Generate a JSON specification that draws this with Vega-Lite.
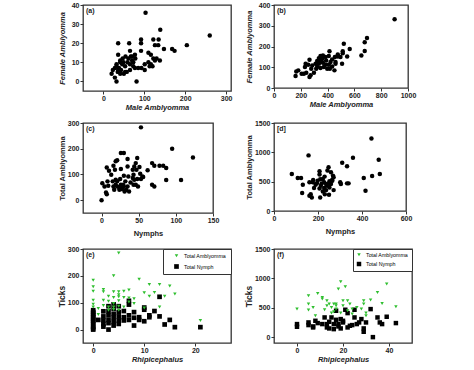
{
  "$schema": "https://vega.github.io/schema/vega-lite/v6.json",
  "padding": {"left": 56, "top": 0, "right": 0, "bottom": 0},
  "config": {
    "font": "Liberation Sans",
    "view": {"stroke": "#333", "strokeWidth": 1.3},
    "axis": {"grid": false, "domain": false, "tickSize": 3, "tickColor": "#333", "labelFontSize": 7, "labelFontWeight": "bold", "labelColor": "#222", "titleFontSize": 7.5, "titleFontWeight": "bold", "titleColor": "#222", "format": "d"},
    "axisX": {"labelPadding": 0, "titlePadding": 2, "labelFlush": false},
    "axisY": {"labelPadding": 1, "minExtent": 14, "maxExtent": 14},
    "title": {"anchor": "start", "fontSize": 7, "fontWeight": "bold", "offset": -13, "dx": 3, "frame": "group", "color": "#222"},
    "legend": {"orient": "top-right", "offset": 0, "strokeColor": "#333", "fillColor": "white", "padding": 4, "labelFontSize": 5.3, "labelFontWeight": "normal", "symbolSize": 14, "rowPadding": 3, "labelLimit": 100}
  },
  "datasets": {
    "a": [
      {"m":103,"f":36},{"m":260,"f":24},{"m":139,"f":27},{"m":36,"f":20},{"m":63,"f":20},{"m":92,"f":22},{"m":92,"f":20},{"m":122,"f":22},{"m":135,"f":22},{"m":204,"f":19},{"m":168,"f":17},{"m":148,"f":17},{"m":134,"f":19},{"m":126,"f":19},{"m":92,"f":16},{"m":65,"f":16},{"m":77,"f":14},{"m":67,"f":13},{"m":61,"f":12},{"m":70,"f":11},{"m":78,"f":12},{"m":73,"f":10},{"m":110,"f":15},{"m":116,"f":14},{"m":122,"f":12},{"m":130,"f":12},{"m":138,"f":11},{"m":126,"f":11},{"m":110,"f":10},{"m":101,"f":9},{"m":116,"f":9},{"m":113,"f":8},{"m":101,"f":6},{"m":85,"f":7},{"m":77,"f":7},{"m":65,"f":6},{"m":36,"f":14},{"m":47,"f":12},{"m":54,"f":13},{"m":41,"f":10},{"m":32,"f":9},{"m":46,"f":9},{"m":53,"f":8},{"m":38,"f":7},{"m":28,"f":7},{"m":43,"f":6},{"m":53,"f":5},{"m":35,"f":5},{"m":20,"f":4},{"m":28,"f":2},{"m":32,"f":0},{"m":81,"f":0},{"m":23,"f":6},{"m":59,"f":10},{"m":49,"f":10},{"m":65,"f":9},{"m":73,"f":8},{"m":41,"f":4},{"m":50,"f":4},{"m":36,"f":6},{"m":32,"f":8},{"m":41,"f":11},{"m":93,"f":7},{"m":174,"f":16},{"m":120,"f":8},{"m":57,"f":5},{"m":70,"f":13}
    ],
    "b": [
      {"m":900,"f":331},{"m":694,"f":241},{"m":677,"f":220},{"m":677,"f":178},{"m":652,"f":157},{"m":521,"f":213},{"m":565,"f":188},{"m":513,"f":177},{"m":513,"f":167},{"m":476,"f":162},{"m":476,"f":152},{"m":546,"f":152},{"m":508,"f":117},{"m":454,"f":149},{"m":459,"f":125},{"m":451,"f":85},{"m":409,"f":154},{"m":414,"f":177},{"m":434,"f":138},{"m":389,"f":133},{"m":365,"f":157},{"m":384,"f":149},{"m":347,"f":154},{"m":335,"f":144},{"m":352,"f":136},{"m":322,"f":130},{"m":310,"f":117},{"m":335,"f":117},{"m":365,"f":122},{"m":384,"f":112},{"m":409,"f":112},{"m":417,"f":93},{"m":434,"f":104},{"m":372,"f":101},{"m":347,"f":96},{"m":315,"f":93},{"m":298,"f":74},{"m":278,"f":93},{"m":255,"f":112},{"m":236,"f":117},{"m":231,"f":101},{"m":241,"f":74},{"m":223,"f":69},{"m":206,"f":69},{"m":265,"f":136},{"m":285,"f":109},{"m":166,"f":80},{"m":181,"f":85},{"m":161,"f":58},{"m":273,"f":61},{"m":265,"f":53},{"m":342,"f":125},{"m":422,"f":125},{"m":397,"f":93},{"m":459,"f":117},{"m":496,"f":149},{"m":360,"f":141},{"m":322,"f":101}
    ],
    "c": [
      {"n":53,"t":283},{"n":95,"t":200},{"n":123,"t":166},{"n":107,"t":78},{"n":87,"t":78},{"n":87,"t":125},{"n":83,"t":134},{"n":78,"t":134},{"n":68,"t":144},{"n":71,"t":134},{"n":62,"t":116},{"n":56,"t":90},{"n":53,"t":82},{"n":48,"t":82},{"n":42,"t":86},{"n":36,"t":92},{"n":48,"t":164},{"n":46,"t":144},{"n":44,"t":131},{"n":47,"t":118},{"n":42,"t":118},{"n":35,"t":131},{"n":26,"t":183},{"n":30,"t":183},{"n":35,"t":160},{"n":19,"t":151},{"n":21,"t":155},{"n":16,"t":134},{"n":7,"t":127},{"n":18,"t":118},{"n":10,"t":114},{"n":26,"t":121},{"n":13,"t":99},{"n":8,"t":73},{"n":1,"t":66},{"n":4,"t":53},{"n":6,"t":30},{"n":7,"t":23},{"n":0,"t":0},{"n":15,"t":73},{"n":19,"t":79},{"n":21,"t":73},{"n":19,"t":60},{"n":21,"t":53},{"n":24,"t":47},{"n":27,"t":43},{"n":30,"t":53},{"n":33,"t":40},{"n":35,"t":53},{"n":37,"t":34},{"n":29,"t":60},{"n":26,"t":60},{"n":32,"t":73},{"n":39,"t":69},{"n":44,"t":79},{"n":43,"t":60},{"n":46,"t":60},{"n":49,"t":53},{"n":30,"t":95},{"n":25,"t":82},{"n":17,"t":40},{"n":24,"t":40},{"n":28,"t":47},{"n":31,"t":34},{"n":71,"t":53},{"n":68,"t":60},{"n":55,"t":92},{"n":52,"t":103},{"n":51,"t":129},{"n":43,"t":99},{"n":16,"t":53},{"n":9,"t":56}
    ],
    "d": [
      {"n":443,"t":1236},{"n":157,"t":948},{"n":359,"t":908},{"n":310,"t":822},{"n":332,"t":764},{"n":476,"t":874},{"n":481,"t":632},{"n":446,"t":598},{"n":408,"t":563},{"n":416,"t":345},{"n":81,"t":632},{"n":108,"t":563},{"n":123,"t":563},{"n":131,"t":448},{"n":128,"t":305},{"n":161,"t":259},{"n":167,"t":287},{"n":161,"t":489},{"n":176,"t":489},{"n":182,"t":391},{"n":189,"t":448},{"n":207,"t":621},{"n":207,"t":678},{"n":198,"t":517},{"n":210,"t":540},{"n":217,"t":471},{"n":228,"t":489},{"n":228,"t":391},{"n":222,"t":333},{"n":237,"t":356},{"n":240,"t":431},{"n":248,"t":460},{"n":252,"t":506},{"n":243,"t":690},{"n":248,"t":747},{"n":259,"t":661},{"n":268,"t":603},{"n":264,"t":529},{"n":271,"t":575},{"n":252,"t":402},{"n":250,"t":276},{"n":271,"t":356},{"n":230,"t":586},{"n":222,"t":546},{"n":213,"t":431},{"n":207,"t":385},{"n":195,"t":471},{"n":178,"t":529},{"n":172,"t":230},{"n":210,"t":230},{"n":237,"t":460},{"n":301,"t":489},{"n":304,"t":460},{"n":332,"t":471},{"n":339,"t":471},{"n":231,"t":287},{"n":259,"t":460},{"n":265,"t":517}
    ],
    "e": [
      {"r":0,"n":184,"s":"Total Amblyomma"},{"r":0,"n":159,"s":"Total Amblyomma"},{"r":0,"n":143,"s":"Total Amblyomma"},{"r":0,"n":109,"s":"Total Amblyomma"},{"r":0,"n":94,"s":"Total Amblyomma"},{"r":0,"n":84,"s":"Total Amblyomma"},
      {"r":1,"n":78,"s":"Total Amblyomma"},{"r":1,"n":56,"s":"Total Amblyomma"},
      {"r":2,"n":149,"s":"Total Amblyomma"},{"r":2,"n":141,"s":"Total Amblyomma"},{"r":2,"n":109,"s":"Total Amblyomma"},{"r":2,"n":90,"s":"Total Amblyomma"},
      {"r":3,"n":124,"s":"Total Amblyomma"},{"r":3,"n":105,"s":"Total Amblyomma"},{"r":3,"n":84,"s":"Total Amblyomma"},{"r":3,"n":72,"s":"Total Amblyomma"},
      {"r":4,"n":200,"s":"Total Amblyomma"},{"r":4,"n":141,"s":"Total Amblyomma"},{"r":4,"n":119,"s":"Total Amblyomma"},{"r":4,"n":97,"s":"Total Amblyomma"},{"r":4,"n":84,"s":"Total Amblyomma"},{"r":4,"n":75,"s":"Total Amblyomma"},
      {"r":5,"n":285,"s":"Total Amblyomma"},{"r":5,"n":141,"s":"Total Amblyomma"},{"r":5,"n":130,"s":"Total Amblyomma"},{"r":5,"n":122,"s":"Total Amblyomma"},{"r":5,"n":107,"s":"Total Amblyomma"},{"r":5,"n":87,"s":"Total Amblyomma"},{"r":5,"n":72,"s":"Total Amblyomma"},
      {"r":6,"n":143,"s":"Total Amblyomma"},{"r":6,"n":119,"s":"Total Amblyomma"},{"r":6,"n":84,"s":"Total Amblyomma"},
      {"r":7,"n":147,"s":"Total Amblyomma"},{"r":7,"n":118,"s":"Total Amblyomma"},{"r":7,"n":103,"s":"Total Amblyomma"},
      {"r":8,"n":115,"s":"Total Amblyomma"},{"r":8,"n":97,"s":"Total Amblyomma"},
      {"r":9,"n":187,"s":"Total Amblyomma"},
      {"r":10,"n":137,"s":"Total Amblyomma"},{"r":10,"n":80,"s":"Total Amblyomma"},
      {"r":11,"n":168,"s":"Total Amblyomma"},{"r":11,"n":124,"s":"Total Amblyomma"},
      {"r":12,"n":138,"s":"Total Amblyomma"},
      {"r":13,"n":168,"s":"Total Amblyomma"},{"r":13,"n":84,"s":"Total Amblyomma"},
      {"r":14,"n":124,"s":"Total Amblyomma"},
      {"r":15,"n":162,"s":"Total Amblyomma"},
      {"r":16,"n":132,"s":"Total Amblyomma"},
      {"r":21,"n":34,"s":"Total Amblyomma"},
      {"r":0,"n":72,"s":"Total Nymph"},{"r":0,"n":59,"s":"Total Nymph"},{"r":0,"n":46,"s":"Total Nymph"},{"r":0,"n":34,"s":"Total Nymph"},{"r":0,"n":21,"s":"Total Nymph"},{"r":0,"n":11,"s":"Total Nymph"},{"r":0,"n":0,"s":"Total Nymph"},{"r":0,"n":53,"s":"Total Nymph"},{"r":0,"n":40,"s":"Total Nymph"},{"r":0,"n":28,"s":"Total Nymph"},{"r":0,"n":5,"s":"Total Nymph"},{"r":0,"n":65,"s":"Total Nymph"},
      {"r":1,"n":36,"s":"Total Nymph"},
      {"r":2,"n":68,"s":"Total Nymph"},{"r":2,"n":49,"s":"Total Nymph"},{"r":2,"n":34,"s":"Total Nymph"},{"r":2,"n":21,"s":"Total Nymph"},{"r":2,"n":11,"s":"Total Nymph"},
      {"r":3,"n":87,"s":"Total Nymph"},{"r":3,"n":68,"s":"Total Nymph"},{"r":3,"n":53,"s":"Total Nymph"},{"r":3,"n":36,"s":"Total Nymph"},{"r":3,"n":24,"s":"Total Nymph"},{"r":3,"n":0,"s":"Total Nymph"},
      {"r":4,"n":94,"s":"Total Nymph"},{"r":4,"n":78,"s":"Total Nymph"},{"r":4,"n":59,"s":"Total Nymph"},{"r":4,"n":44,"s":"Total Nymph"},{"r":4,"n":28,"s":"Total Nymph"},{"r":4,"n":15,"s":"Total Nymph"},
      {"r":5,"n":87,"s":"Total Nymph"},{"r":5,"n":65,"s":"Total Nymph"},{"r":5,"n":49,"s":"Total Nymph"},{"r":5,"n":34,"s":"Total Nymph"},{"r":5,"n":21,"s":"Total Nymph"},
      {"r":6,"n":69,"s":"Total Nymph"},{"r":6,"n":46,"s":"Total Nymph"},{"r":6,"n":34,"s":"Total Nymph"},
      {"r":7,"n":107,"s":"Total Nymph"},{"r":7,"n":93,"s":"Total Nymph"},{"r":7,"n":53,"s":"Total Nymph"},{"r":7,"n":36,"s":"Total Nymph"},
      {"r":8,"n":65,"s":"Total Nymph"},{"r":8,"n":44,"s":"Total Nymph"},{"r":8,"n":15,"s":"Total Nymph"},
      {"r":9,"n":46,"s":"Total Nymph"},{"r":9,"n":36,"s":"Total Nymph"},
      {"r":10,"n":82,"s":"Total Nymph"},{"r":10,"n":74,"s":"Total Nymph"},{"r":10,"n":31,"s":"Total Nymph"},
      {"r":11,"n":53,"s":"Total Nymph"},{"r":11,"n":46,"s":"Total Nymph"},
      {"r":12,"n":69,"s":"Total Nymph"},
      {"r":13,"n":122,"s":"Total Nymph"},{"r":13,"n":49,"s":"Total Nymph"},
      {"r":14,"n":19,"s":"Total Nymph"},
      {"r":15,"n":36,"s":"Total Nymph"},
      {"r":16,"n":9,"s":"Total Nymph"},
      {"r":21,"n":9,"s":"Total Nymph"}
    ],
    "f": [
      {"r":0,"n":477,"s":"Total Amblyomma"},{"r":5,"n":705,"s":"Total Amblyomma"},{"r":5,"n":563,"s":"Total Amblyomma"},{"r":5,"n":460,"s":"Total Amblyomma"},{"r":7,"n":506,"s":"Total Amblyomma"},{"r":9,"n":744,"s":"Total Amblyomma"},{"r":11,"n":676,"s":"Total Amblyomma"},{"r":11,"n":648,"s":"Total Amblyomma"},{"r":8,"n":364,"s":"Total Amblyomma"},{"r":13,"n":619,"s":"Total Amblyomma"},{"r":13,"n":534,"s":"Total Amblyomma"},{"r":12,"n":466,"s":"Total Amblyomma"},{"r":14,"n":563,"s":"Total Amblyomma"},{"r":15,"n":506,"s":"Total Amblyomma"},{"r":16,"n":563,"s":"Total Amblyomma"},{"r":17,"n":534,"s":"Total Amblyomma"},{"r":17,"n":477,"s":"Total Amblyomma"},{"r":18,"n":818,"s":"Total Amblyomma"},{"r":19,"n":943,"s":"Total Amblyomma"},{"r":20,"n":619,"s":"Total Amblyomma"},{"r":21,"n":858,"s":"Total Amblyomma"},{"r":20,"n":534,"s":"Total Amblyomma"},{"r":22,"n":449,"s":"Total Amblyomma"},{"r":22,"n":619,"s":"Total Amblyomma"},{"r":23,"n":563,"s":"Total Amblyomma"},{"r":24,"n":477,"s":"Total Amblyomma"},{"r":24,"n":392,"s":"Total Amblyomma"},{"r":25,"n":1244,"s":"Total Amblyomma"},{"r":26,"n":506,"s":"Total Amblyomma"},{"r":28,"n":477,"s":"Total Amblyomma"},{"r":29,"n":619,"s":"Total Amblyomma"},{"r":29,"n":563,"s":"Total Amblyomma"},{"r":30,"n":409,"s":"Total Amblyomma"},{"r":30,"n":364,"s":"Total Amblyomma"},{"r":32,"n":630,"s":"Total Amblyomma"},{"r":35,"n":761,"s":"Total Amblyomma"},{"r":37,"n":574,"s":"Total Amblyomma"},{"r":39,"n":903,"s":"Total Amblyomma"},{"r":43,"n":517,"s":"Total Amblyomma"},{"r":17,"n":563,"s":"Total Amblyomma"},{"r":16,"n":432,"s":"Total Amblyomma"},{"r":19,"n":409,"s":"Total Amblyomma"},{"r":15,"n":409,"s":"Total Amblyomma"},
      {"r":0,"n":222,"s":"Total Nymph"},{"r":0,"n":176,"s":"Total Nymph"},{"r":5,"n":250,"s":"Total Nymph"},{"r":5,"n":205,"s":"Total Nymph"},{"r":7,"n":165,"s":"Total Nymph"},{"r":7,"n":182,"s":"Total Nymph"},{"r":8,"n":278,"s":"Total Nymph"},{"r":9,"n":239,"s":"Total Nymph"},{"r":11,"n":222,"s":"Total Nymph"},{"r":12,"n":335,"s":"Total Nymph"},{"r":13,"n":165,"s":"Total Nymph"},{"r":13,"n":222,"s":"Total Nymph"},{"r":14,"n":261,"s":"Total Nymph"},{"r":14,"n":148,"s":"Total Nymph"},{"r":15,"n":335,"s":"Total Nymph"},{"r":16,"n":222,"s":"Total Nymph"},{"r":16,"n":136,"s":"Total Nymph"},{"r":17,"n":449,"s":"Total Nymph"},{"r":17,"n":295,"s":"Total Nymph"},{"r":18,"n":222,"s":"Total Nymph"},{"r":18,"n":182,"s":"Total Nymph"},{"r":19,"n":148,"s":"Total Nymph"},{"r":20,"n":250,"s":"Total Nymph"},{"r":21,"n":466,"s":"Total Nymph"},{"r":22,"n":409,"s":"Total Nymph"},{"r":22,"n":165,"s":"Total Nymph"},{"r":23,"n":193,"s":"Total Nymph"},{"r":24,"n":205,"s":"Total Nymph"},{"r":25,"n":466,"s":"Total Nymph"},{"r":25,"n":335,"s":"Total Nymph"},{"r":26,"n":222,"s":"Total Nymph"},{"r":27,"n":250,"s":"Total Nymph"},{"r":28,"n":307,"s":"Total Nymph"},{"r":29,"n":148,"s":"Total Nymph"},{"r":29,"n":91,"s":"Total Nymph"},{"r":30,"n":250,"s":"Total Nymph"},{"r":32,"n":477,"s":"Total Nymph"},{"r":33,"n":0,"s":"Total Nymph"},{"r":35,"n":335,"s":"Total Nymph"},{"r":36,"n":250,"s":"Total Nymph"},{"r":37,"n":222,"s":"Total Nymph"},{"r":39,"n":347,"s":"Total Nymph"},{"r":43,"n":239,"s":"Total Nymph"},{"r":19,"n":307,"s":"Total Nymph"},{"r":20,"n":278,"s":"Total Nymph"}
    ]
  },
  "columns": 2,
  "align": "each",
  "spacing": {"row": 6, "column": 10},
  "concat": [
    {
      "title": {"text": "(a)"},
      "width": 148, "height": 86,
      "data": {"name": "a"},
      "mark": {"type": "circle", "color": "black", "size": 20, "opacity": 1},
      "encoding": {
        "x": {"field": "m", "type": "quantitative", "scale": {"domain": [-50, 312], "nice": false, "zero": false}, "axis": {"values": [0, 100, 200, 300], "title": "Male Amblyomma", "titleFontStyle": "italic"}},
        "y": {"field": "f", "type": "quantitative", "scale": {"domain": [-5, 40], "nice": false, "zero": false}, "axis": {"values": [0, 10, 20, 30, 40], "title": "Female Amblyomma", "titleFontStyle": "italic", "titlePadding": 3}}
      }
    },
    {
      "title": {"text": "(b)"},
      "width": 134, "height": 83,
      "data": {"name": "b"},
      "mark": {"type": "circle", "color": "black", "size": 20, "opacity": 1},
      "encoding": {
        "x": {"field": "m", "type": "quantitative", "scale": {"domain": [0, 1000], "nice": false}, "axis": {"values": [0, 200, 400, 600, 800, 1000], "title": "Male Amblyomma", "titleFontStyle": "italic"}},
        "y": {"field": "f", "type": "quantitative", "scale": {"domain": [0, 400], "nice": false}, "axis": {"values": [0, 100, 200, 300, 400], "title": "Female Amblyomma", "titleFontStyle": "italic", "titlePadding": 7}}
      }
    },
    {
      "title": {"text": "(c)"},
      "width": 130, "height": 90,
      "data": {"name": "c"},
      "mark": {"type": "circle", "color": "black", "size": 20, "opacity": 1},
      "encoding": {
        "x": {"field": "n", "type": "quantitative", "scale": {"domain": [-25, 150], "nice": false, "zero": false}, "axis": {"values": [0, 50, 100, 150], "title": "Nymphs", "titlePadding": 6}},
        "y": {"field": "t", "type": "quantitative", "scale": {"domain": [-50, 300], "nice": false, "zero": false}, "axis": {"values": [0, 100, 200, 300], "title": "Total Amblyomma", "titlePadding": 3}}
      }
    },
    {
      "title": {"text": "[d]"},
      "width": 132, "height": 88,
      "data": {"name": "d"},
      "mark": {"type": "circle", "color": "black", "size": 20, "opacity": 1},
      "encoding": {
        "x": {"field": "n", "type": "quantitative", "scale": {"domain": [0, 600], "nice": false}, "axis": {"values": [0, 200, 400, 600], "title": "Nymphs", "titlePadding": 6}},
        "y": {"field": "t", "type": "quantitative", "scale": {"domain": [0, 1500], "nice": false}, "axis": {"values": [0, 500, 1000, 1500], "title": "Total Amblyomma", "titlePadding": 7}}
      }
    },
    {
      "title": {"text": "(e)"},
      "width": 148, "height": 94,
      "data": {"name": "e"},
      "mark": {"type": "point", "filled": true, "opacity": 1},
      "encoding": {
        "x": {"field": "r", "type": "quantitative", "scale": {"domain": [-2, 27], "nice": false, "zero": false}, "axis": {"values": [0, 10, 20], "title": "Rhipicephalus", "titleFontStyle": "italic"}},
        "y": {"field": "n", "type": "quantitative", "scale": {"domain": [-50, 300], "nice": false, "zero": false}, "axis": {"values": [0, 100, 200, 300], "title": "Ticks", "titleFontSize": 8.5, "titlePadding": 3}},
        "color": {"field": "s", "type": "nominal", "scale": {"domain": ["Total Amblyomma", "Total Nymph"], "range": ["#2fbf2f", "#000000"]}, "legend": {"title": null, "padding": 4, "rowPadding": 4, "symbolOffset": 6}},
        "shape": {"field": "s", "type": "nominal", "scale": {"domain": ["Total Amblyomma", "Total Nymph"], "range": ["triangle-down", "square"]}, "legend": {"title": null}},
        "size": {"field": "s", "type": "nominal", "scale": {"domain": ["Total Amblyomma", "Total Nymph"], "range": [12, 22]}, "legend": null},
        "order": {"field": "s", "sort": "descending"}
      }
    },
    {
      "title": {"text": "(f)"},
      "width": 138, "height": 94,
      "data": {"name": "f"},
      "mark": {"type": "point", "filled": true, "opacity": 1},
      "encoding": {
        "x": {"field": "r", "type": "quantitative", "scale": {"domain": [-10, 50], "nice": false, "zero": false}, "axis": {"values": [0, 20, 40], "title": "Rhipicephalus", "titleFontStyle": "italic"}},
        "y": {"field": "n", "type": "quantitative", "scale": {"domain": [-100, 1500], "nice": false, "zero": false}, "axis": {"values": [0, 500, 1000, 1500], "title": "Ticks", "titleFontSize": 8.5, "titlePadding": 7}},
        "color": {"field": "s", "type": "nominal", "scale": {"domain": ["Total Amblyomma", "Total Nymph"], "range": ["#2fbf2f", "#000000"]}, "legend": {"title": null, "padding": 3, "rowPadding": 3}},
        "shape": {"field": "s", "type": "nominal", "scale": {"domain": ["Total Amblyomma", "Total Nymph"], "range": ["triangle-down", "square"]}, "legend": {"title": null}},
        "size": {"field": "s", "type": "nominal", "scale": {"domain": ["Total Amblyomma", "Total Nymph"], "range": [12, 20]}, "legend": null},
        "order": {"field": "s", "sort": "descending"}
      }
    }
  ],
  "resolve": {"scale": {"color": "independent", "shape": "independent", "size": "independent"}, "legend": {"color": "independent", "shape": "independent"}}
}
